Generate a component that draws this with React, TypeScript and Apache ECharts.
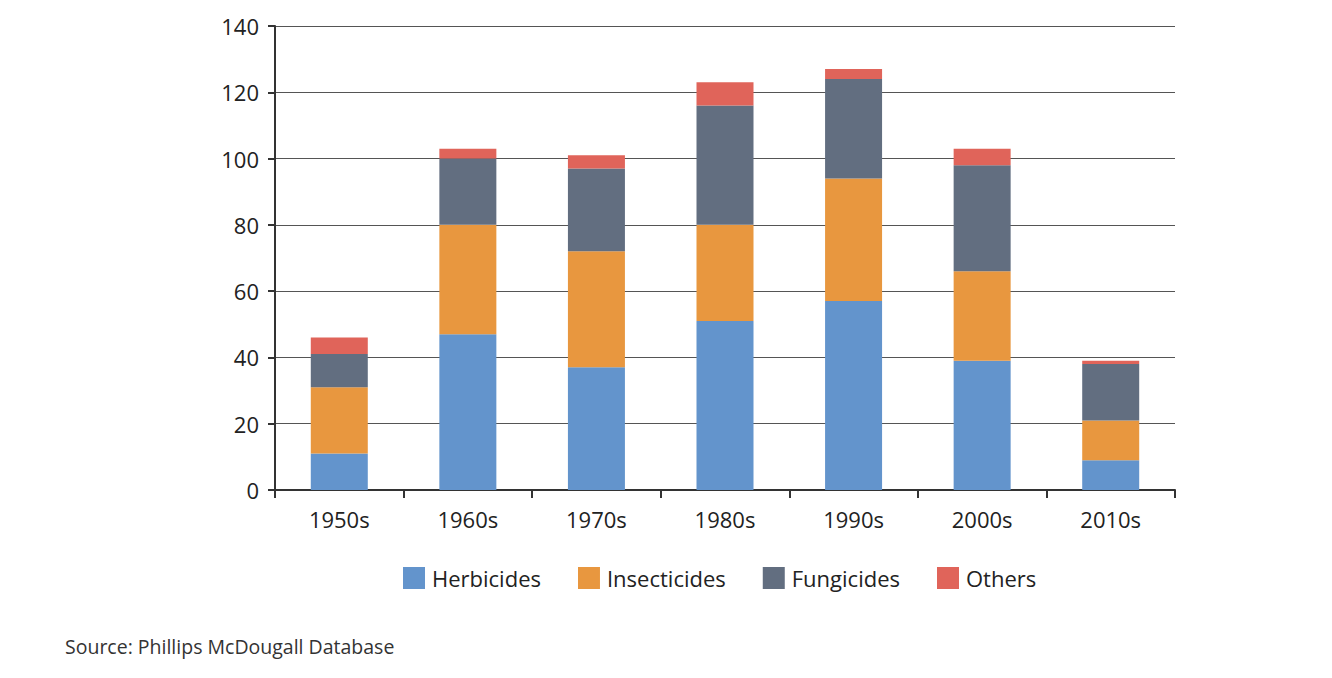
import { useEffect, useRef } from 'react';
import * as echarts from 'echarts';

const decades = ['1950s', '1960s', '1970s', '1980s', '1990s', '2000s', '2010s'];
const herbicides = [11, 47, 37, 51, 57, 39, 9];
const insecticides = [20, 33, 35, 29, 37, 27, 12];
const fungicides = [10, 20, 25, 36, 30, 32, 17];
const others = [5, 3, 4, 7, 3, 5, 1];

const FONT = '"Open Sans", sans-serif';

export default function App() {
  const chartRef = useRef<HTMLDivElement>(null);

  useEffect(() => {
    if (!chartRef.current) return;
    const chart = echarts.init(chartRef.current, null, { renderer: 'svg' });

    const bar = (name: string, data: number[], color: string) => ({
      name,
      type: 'bar',
      stack: 'total',
      data,
      barWidth: 57,
      itemStyle: { color },
    });

    chart.setOption({
      animation: false,
      textStyle: { fontFamily: FONT },
      title: {
        text: 'Source: Phillips McDougall Database',
        left: 52,
        top: 623,
        textStyle: { fontSize: 19.5, fontWeight: 'normal', color: '#333', fontFamily: FONT },
      },
      legend: {
        data: ['Herbicides', 'Insecticides', 'Fungicides', 'Others'],
        top: 554,
        left: 390,
        itemWidth: 22,
        itemHeight: 22,
        itemGap: 37,
        icon: 'rect',
        textStyle: { fontSize: 22, color: '#222', fontFamily: FONT, padding: [0, 0, 0, 2] },
      },
      grid: { left: 267, right: 149, top: 18, bottom: 180 },
      xAxis: {
        type: 'category',
        data: decades,
        axisLine: { lineStyle: { color: '#333', width: 2 } },
        axisTick: { show: true, length: 8, lineStyle: { color: '#333', width: 2 } },
        axisLabel: { fontSize: 22, color: '#222', margin: 18, fontFamily: FONT },
      },
      yAxis: {
        type: 'value',
        min: 0,
        max: 140,
        interval: 20,
        axisLine: { show: true, lineStyle: { color: '#333', width: 2 } },
        axisTick: { show: true, length: 7, lineStyle: { color: '#333', width: 2 } },
        axisLabel: { fontSize: 22, color: '#222', margin: 16, fontFamily: FONT },
        splitLine: { lineStyle: { color: '#555', width: 1 } },
      },
      series: [
        bar('Herbicides', herbicides, '#6394cc'),
        bar('Insecticides', insecticides, '#e8973f'),
        bar('Fungicides', fungicides, '#626e80'),
        bar('Others', others, '#e0645a'),
      ],
    });

    return () => chart.dispose();
  }, []);

  return <div ref={chartRef} style={{ width: 1316, height: 662 }} />;
}
